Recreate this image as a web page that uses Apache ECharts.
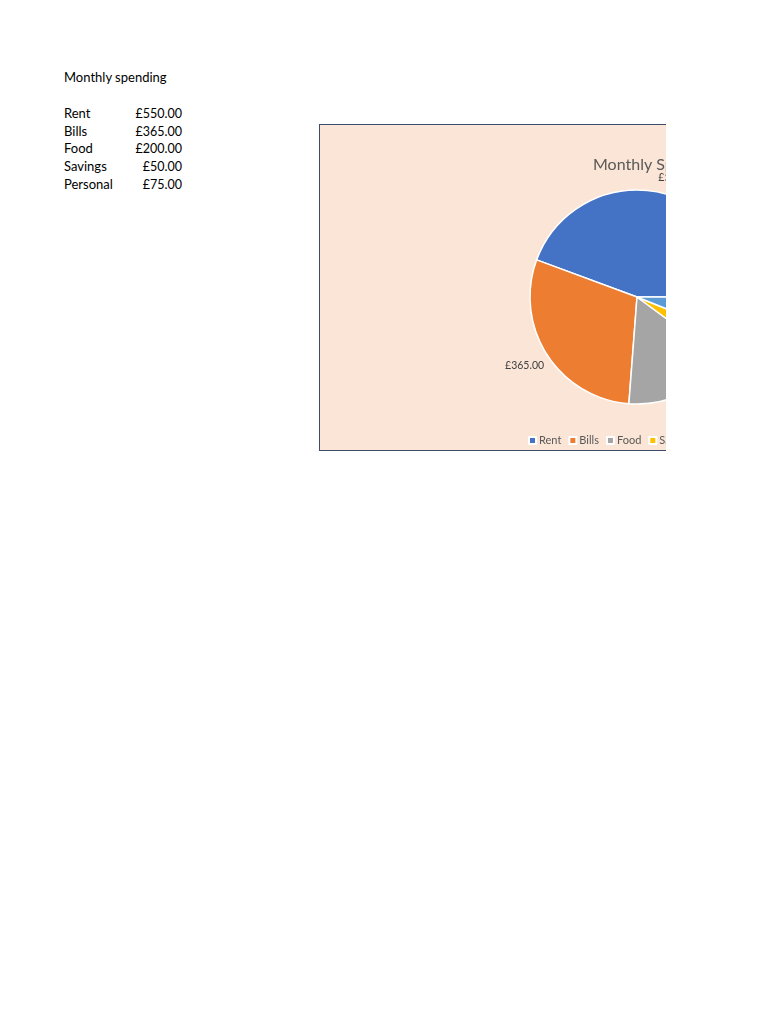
<!DOCTYPE html>
<html>
<head>
<meta charset="utf-8">
<script src="https://cdn.jsdelivr.net/npm/echarts@6/dist/echarts.min.js"></script>
<style>
  html, body { margin: 0; padding: 0; background: #ffffff; width: 768px; height: 1024px; overflow: hidden; }
  body { position: relative; font-family: Lato, "Open Sans", sans-serif; color: #000; }
  .sheet { position: absolute; font-size: 13px; line-height: 16px; }
  .lbl { position: absolute; left: 64px; white-space: nowrap; }
  .val { position: absolute; right: 586px; white-space: nowrap; text-align: right; font-size: 12.5px; margin-top: 1px; }
  #frame { position: absolute; left: 319px; top: 124px; width: 346px; height: 325px;
           border-left: 1.5px solid #3E4C6C; border-top: 1.5px solid #3E4C6C; border-bottom: 1.5px solid #3E4C6C;
           overflow: hidden; background: #FBE5D6; }
  #chart { position: absolute; left: 0; top: 0; width: 700px; height: 325px; }
</style>
</head>
<body>
<div id="sheet"></div>
<div id="frame"><div id="chart"></div></div>
<script>
// ---- data ----
const sheetTitle = 'Monthly spending';
const chartTitle = 'Monthly Spending';
const categories = ['Rent', 'Bills', 'Food', 'Savings', 'Personal'];
const amounts = [550, 365, 200, 50, 75];
const colors = ['#4472C4', '#ED7D31', '#A5A5A5', '#FFC000', '#5B9BD5'];
const rowTops = [105, 123, 140, 158, 176];

function money(v) { return '£' + v.toFixed(2); }

// ---- worksheet text ----
const sheet = document.getElementById('sheet');
let html = '<div class="sheet lbl" style="top:69px">' + sheetTitle + '</div>';
categories.forEach(function (c, i) {
  html += '<div class="sheet lbl" style="top:' + rowTops[i] + 'px">' + c + '</div>';
  html += '<div class="sheet val" style="top:' + rowTops[i] + 'px">' + money(amounts[i]) + '</div>';
});
sheet.innerHTML = html;

// ---- chart ----
const chart = echarts.init(document.getElementById('chart'), null, { renderer: 'canvas' });
chart.setOption({
  backgroundColor: '#FBE5D6',
  animation: false,
  color: colors,
  title: {
    text: chartTitle,
    left: 268,
    top: 27,
    textStyle: { fontFamily: 'Lato, "Open Sans", sans-serif', fontSize: 16, fontWeight: 'normal', color: '#595959' }
  },
  legend: {
    left: 203,
    top: 305,
    icon: 'rect',
    itemWidth: 7,
    itemHeight: 7,
    itemGap: 7,
    textStyle: { fontFamily: 'Lato, "Open Sans", sans-serif', fontSize: 11, color: '#595959', padding: [0, 0, 0, -2] },
    data: categories
  },
  series: [{
    type: 'pie',
    center: [317, 172],
    radius: 107,
    startAngle: 0,
    clockwise: false,
    avoidLabelOverlap: false,
    itemStyle: { borderColor: '#ffffff', borderWidth: 1.5 },
    label: {
      show: true,
      position: 'outside',
      formatter: function (p) { return money(p.value); },
      fontFamily: 'Lato, "Open Sans", sans-serif',
      fontSize: 10.5,
      color: '#404040',
      distanceToLabelLine: 0
    },
    labelLine: { show: false, length: 14, length2: 0 },
    data: categories.map(function (c, i) {
      const item = { name: c, value: amounts[i] };
      if (c === 'Bills') {
        item.label = { distanceToLabelLine: -14 };
        item.labelLine = { show: false, length: 20, length2: 0 };
      }
      return item;
    })
  }]
});
</script>
</body>
</html>
